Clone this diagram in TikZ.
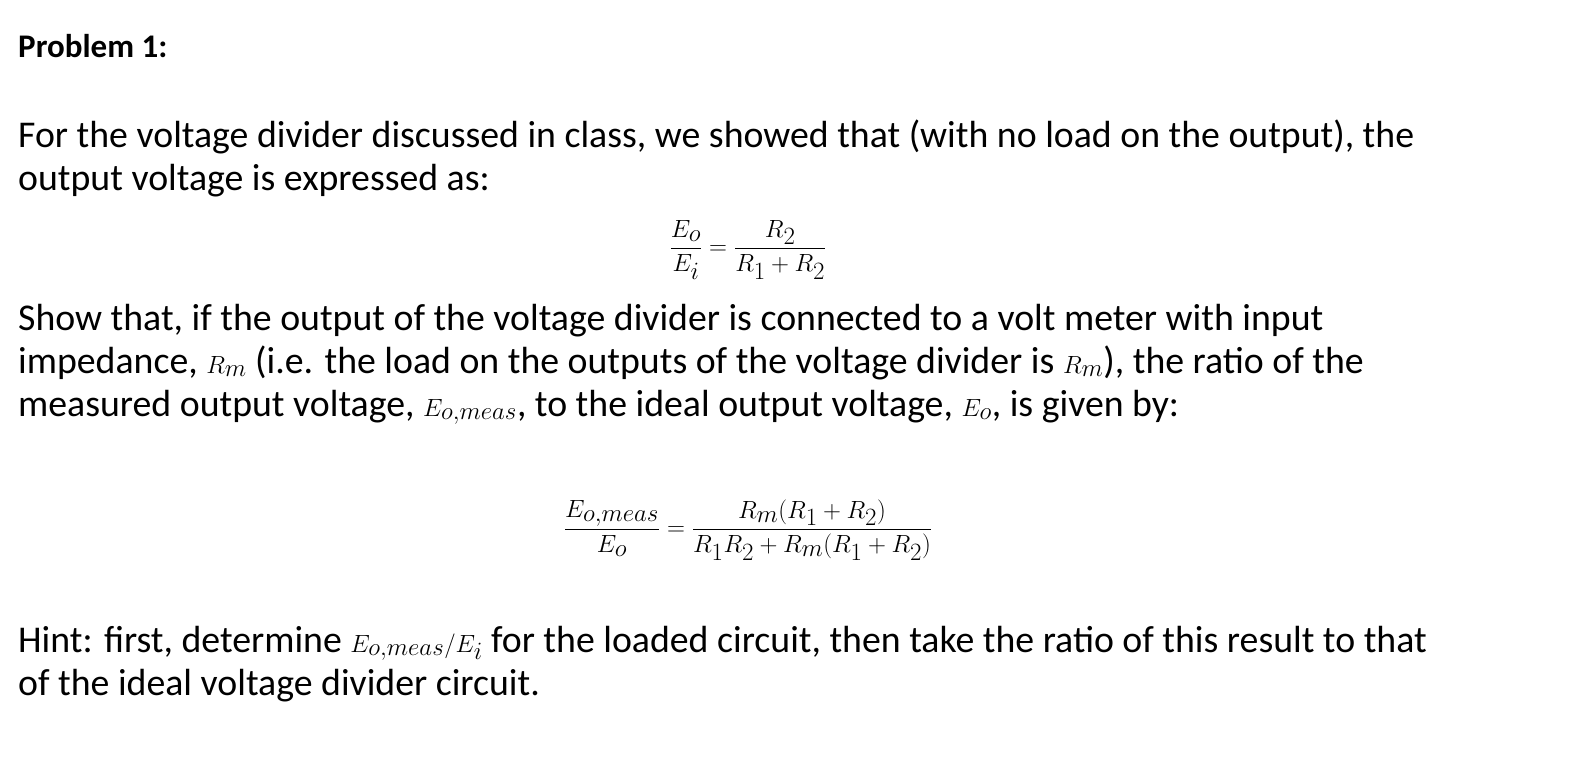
\documentclass[tikz,border=0pt]{standalone}
\usepackage{amsmath}
\usepackage{fontspec}
\setmainfont{Carlito}
\newcommand{\mm}[1]{{\fontsize{43}{40}\selectfont$#1$}}
\begin{document}
\begin{tikzpicture}[x=1pt,y=-1pt,txt/.style={anchor=base west,inner sep=0pt,font=\fontsize{37.8}{40}\selectfont}]
\useasboundingbox[fill=white] (0,0) rectangle (1582,766);
\node[txt,font=\fontsize{33}{40}\selectfont\bfseries] (t) at (18,57) {Problem 1:};
\node[txt] (l1) at (18,147) {For the voltage divider discussed in class, we showed that (with no load on the output), the};
\node[txt] (l2) at (18,190) {output voltage is expressed as:};
\node[txt,anchor=center,font=\fontsize{45}{50}\selectfont] (f1) at (748,250) {$\dfrac{E_o}{E_i}=\dfrac{R_2}{R_1+R_2}$};
\node[txt] (l3) at (18,330) {Show that, if the output of the voltage divider is connected to a volt meter with input};
\node[txt] (l4) at (18,373) {impedance, \mm{R_m} (i.e. the load on the outputs of the voltage divider is \mm{R_m}), the ratio of the};
\node[txt] (l5) at (18,416) {measured output voltage, \mm{E_{o,meas}}, to the ideal output voltage, \mm{E_o}, is given by:};
\node[txt,anchor=center,font=\fontsize{45}{50}\selectfont] (f2) at (748,530) {$\dfrac{E_{o,meas}}{E_o}=\dfrac{R_m(R_1+R_2)}{R_1R_2+R_m(R_1+R_2)}$};
\node[txt] (l6) at (18,652) {Hint: first, determine \mm{E_{o,meas}/E_i} for the loaded circuit, then take the ratio of this result to that};
\node[txt] (l7) at (18,695) {of the ideal voltage divider circuit.};
\end{tikzpicture}
\end{document}
